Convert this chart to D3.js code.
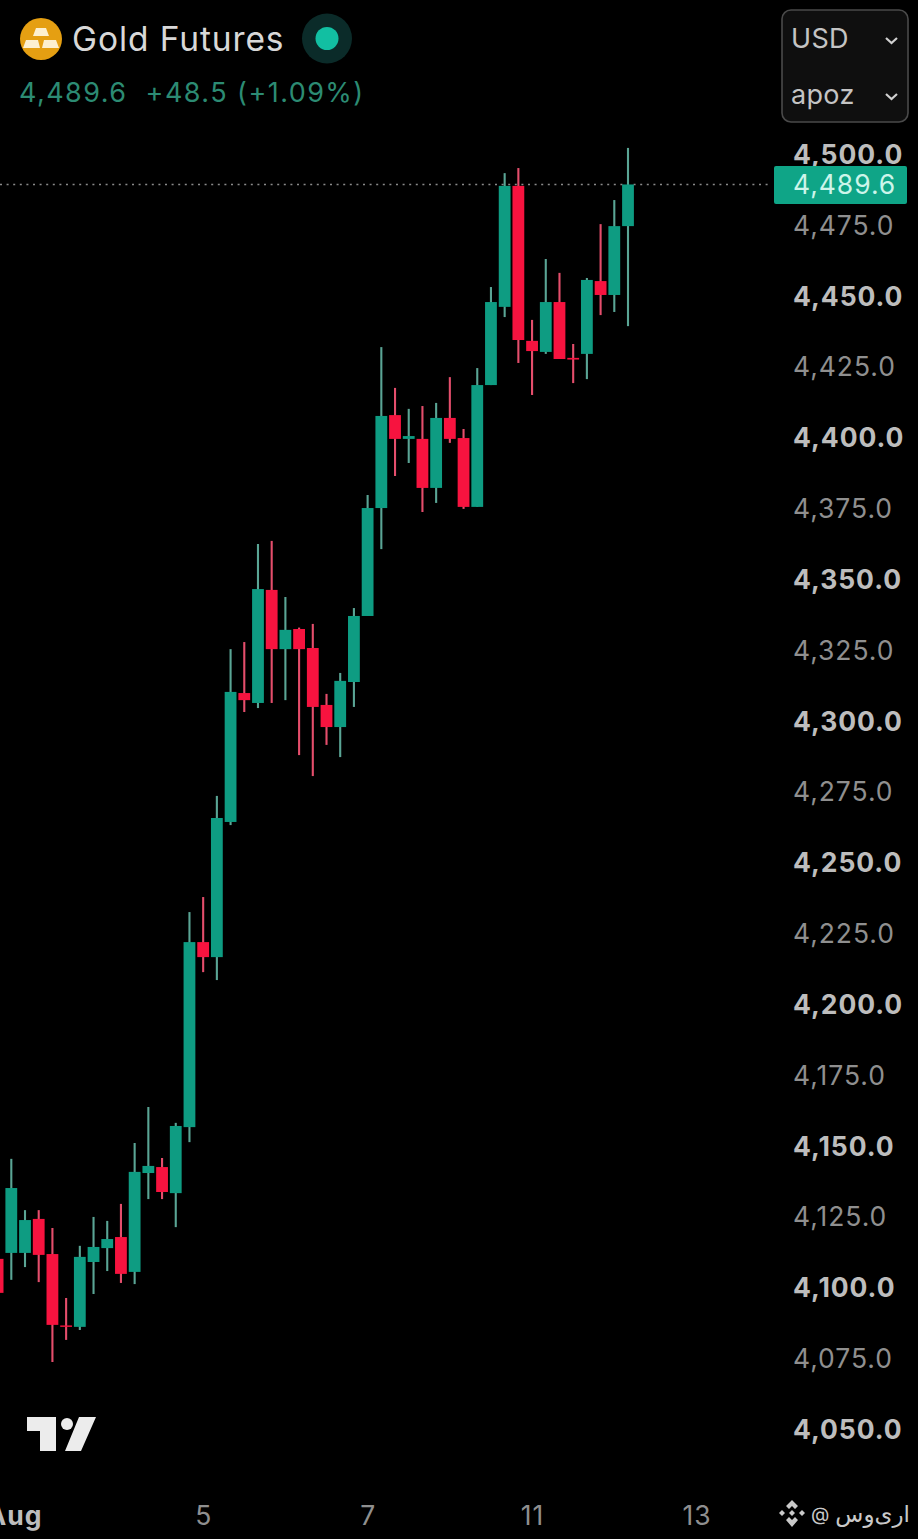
<!DOCTYPE html>
<html>
<head>
<meta charset="utf-8">
<script src="https://cdn.jsdelivr.net/npm/d3@7"></script>
<style>
    html, body { margin: 0; padding: 0; background: #000; }
    svg { display: block; }
    text { font-family: Inter, Roboto, sans-serif; }
</style>
</head>
<body>
<div id="chart"></div>
<script>
// candles, oldest first
const opens = [4110.4, 4112.5, 4112.5, 4124.5, 4112.1, 4086.9, 4086.4, 4109.3, 4114.2, 4118.1, 4105.8, 4140.7, 4142.8, 4133.6, 4156.9, 4222.2,
    4216.9, 4264.6, 4310.1, 4306.6, 4346.5, 4325.6, 4332.7, 4326.0, 4305.9, 4298.1, 4314.0, 4337.3, 4375.4, 4408.2, 4399.8, 4399.8,
    4382.5, 4407.2, 4400.1, 4375.8, 4418.8, 4446.4, 4489.1, 4434.4, 4430.5, 4448.1, 4428.4, 4429.8, 4455.5, 4450.6, 4474.9];
const highs = [4110.4, 4145.7, 4127.6, 4127.6, 4121.3, 4096.6, 4115.0, 4125.2, 4123.8, 4129.8, 4151.3, 4164.0, 4146.0, 4158.4, 4232.8, 4238.1,
    4273.8, 4325.6, 4328.1, 4362.7, 4363.8, 4344.0, 4333.2, 4334.5, 4309.8, 4317.2, 4340.1, 4380.0, 4432.2, 4417.8, 4410.4, 4411.4,
    4412.5, 4421.6, 4403.3, 4424.8, 4453.4, 4493.6, 4495.4, 4441.8, 4463.3, 4458.4, 4433.3, 4456.6, 4475.6, 4484.1, 4502.5];
const lows = [4098.4, 4103.0, 4107.5, 4102.2, 4074.0, 4081.8, 4085.3, 4098.0, 4106.1, 4101.9, 4101.5, 4131.5, 4131.5, 4121.6, 4151.6, 4211.6,
    4208.8, 4263.5, 4303.4, 4304.8, 4306.6, 4307.6, 4288.2, 4280.8, 4291.8, 4287.5, 4305.2, 4337.3, 4360.9, 4386.7, 4391.3, 4374.0,
    4377.2, 4398.4, 4375.1, 4375.8, 4418.8, 4442.8, 4426.6, 4415.3, 4429.8, 4428.0, 4419.5, 4420.9, 4443.5, 4444.6, 4439.6];
const closes = [4098.4, 4135.4, 4124.1, 4111.8, 4087.1, 4086.4, 4111.1, 4114.6, 4117.4, 4105.1, 4141.1, 4143.2, 4134.0, 4157.3, 4222.2, 4216.9,
    4266.0, 4310.5, 4307.6, 4346.8, 4325.6, 4332.4, 4325.6, 4305.2, 4298.1, 4314.4, 4337.3, 4375.4, 4407.9, 4399.8, 4400.8, 4382.5,
    4407.2, 4399.8, 4375.8, 4418.8, 4448.1, 4489.1, 4434.7, 4430.8, 4448.1, 4428.0, 4427.8, 4455.9, 4450.6, 4474.9, 4489.6];

const priceTicks = [4050, 4075, 4100, 4125, 4150, 4175, 4200, 4225, 4250, 4275, 4300, 4325, 4350, 4375, 4400, 4425, 4450, 4475, 4500];
const dateTickIndex = [1.2, 15, 27, 39, 51];
const dateTickLabels = ['Aug', '5', '7', '11', '13'];

const lastPrice = 4489.6;
const symbolName = 'Gold Futures';
const changeText = '4,489.6  +48.5 (+1.09%)';

const width = 918, height = 1539;
const green = '#0e9c82', red = '#f7133f';
const greenWick = '#5aa595', redWick = '#e54e6c';
const bodyWidth = 11.8;
const labelSpacing = '0.95px';

const svg = d3.select('#chart').append('svg')
    .attr('width', width)
    .attr('height', height)
    .style('background', '#000');

const x = d3.scaleLinear().domain([0, 46]).range([-2.4, 628]);
const y = d3.scaleLinear().domain([4050, 4500]).range([1430, 155]);

const candles = opens.map((o, i) => ({ i, o, h: highs[i], l: lows[i], c: closes[i], up: closes[i] >= o }));

// last price dotted line
svg.append('line')
    .attr('x1', 0).attr('x2', 772)
    .attr('y1', y(lastPrice)).attr('y2', y(lastPrice))
    .attr('stroke', '#8a8a8a')
    .attr('stroke-width', 1.4)
    .attr('stroke-dasharray', '2 4.6');

const candle = svg.append('g').selectAll('g').data(candles).enter().append('g');

candle.append('line')
    .attr('x1', d => x(d.i)).attr('x2', d => x(d.i))
    .attr('y1', d => y(d.h)).attr('y2', d => y(d.l))
    .attr('stroke', d => d.up ? greenWick : redWick)
    .attr('stroke-width', 2.1);

candle.append('rect')
    .attr('x', d => x(d.i) - bodyWidth / 2)
    .attr('width', bodyWidth)
    .attr('y', d => y(Math.max(d.o, d.c)))
    .attr('height', d => Math.max(1.4, Math.abs(y(d.o) - y(d.c))))
    .attr('fill', d => d.up ? green : red);

// price axis
const yAxis = svg.append('g')
    .attr('transform', 'translate(793, 0)')
    .call(d3.axisRight(y).tickValues(priceTicks).tickSize(0).tickPadding(0).tickFormat(d3.format(',.1f')));
yAxis.select('.domain').remove();
yAxis.selectAll('text')
    .style('font-family', 'Inter, Roboto, sans-serif')
    .style('font-size', '26.5px')
    .style('letter-spacing', labelSpacing)
    .style('font-weight', d => d % 50 === 0 ? 700 : 400)
    .attr('fill', d => d % 50 === 0 ? '#bdbdbd' : '#8f8f8f');

// date axis
const xAxis = svg.append('g')
    .attr('transform', 'translate(0, 1506.5)')
    .call(d3.axisBottom(x).tickValues(dateTickIndex).tickSize(0).tickPadding(0)
        .tickFormat((d, i) => dateTickLabels[i]));
xAxis.select('.domain').remove();
xAxis.selectAll('text')
    .style('font-family', 'Inter, Roboto, sans-serif')
    .style('font-size', '26.5px')
    .style('letter-spacing', labelSpacing)
    .style('font-weight', (d, i) => i === 0 ? 700 : 400)
    .attr('fill', (d, i) => i === 0 ? '#bdbdbd' : '#8f8f8f');

// last price tag
svg.append('rect')
    .attr('x', 774).attr('y', y(lastPrice) - 18.5)
    .attr('width', 133).attr('height', 38).attr('rx', 2)
    .attr('fill', '#0fa587');
svg.append('text')
    .attr('x', 793).attr('y', y(lastPrice))
    .attr('dy', '0.36em')
    .attr('font-size', 26.5)
    .attr('fill', '#cdf5ea')
    .style('letter-spacing', labelSpacing)
    .text(d3.format(',.1f')(lastPrice));

// header
const coin = svg.append('g').attr('transform', 'translate(41, 39)');
coin.append('circle').attr('r', 21).attr('fill', '#e59f12');
coin.append('path')
    .attr('d', 'M-5,-11 H5 L8,-3 H-8 Z M-15,1 H-3 L-1,9 H-18 Z M3,1 H15 L18,9 H1 Z')
    .attr('fill', '#fdf0d0');

svg.append('text')
    .attr('x', 72).attr('y', 51)
    .attr('font-size', 33.5)
    .attr('fill', '#d8d8d8')
    .style('letter-spacing', '0.9px')
    .text(symbolName);

svg.append('circle').attr('cx', 327).attr('cy', 38.5).attr('r', 25).attr('fill', '#0b2b29');
svg.append('circle').attr('cx', 327).attr('cy', 38.5).attr('r', 11.5).attr('fill', '#12bfa2');

svg.append('text')
    .attr('x', 19).attr('y', 102)
    .attr('font-size', 27)
    .attr('fill', '#2c8b73')
    .style('white-space', 'pre')
    .style('letter-spacing', '1.45px')
    .text(changeText);

// currency / unit box
svg.append('rect')
    .attr('x', 782).attr('y', 10)
    .attr('width', 126).attr('height', 112).attr('rx', 9)
    .attr('fill', '#0f0f0f')
    .attr('stroke', '#4a4a4a')
    .attr('stroke-width', 1.6);

const boxRows = svg.append('g').selectAll('g').data(['USD', 'apoz']).enter().append('g')
    .attr('transform', (d, i) => `translate(0, ${i * 56})`);
boxRows.append('text')
    .attr('x', 791).attr('y', 48)
    .attr('font-size', 27)
    .attr('fill', '#c4c4c4')
    .style('letter-spacing', '0.3px')
    .text(d => d);
boxRows.append('path')
    .attr('d', 'M886,38 L891.5,43 L897,38')
    .attr('fill', 'none')
    .attr('stroke', '#d0d0d0')
    .attr('stroke-width', 2.2);

// TradingView mark
svg.append('path')
    .attr('d', 'M27,1417 H56 V1451 H40 V1431 H27 Z M96,1417 L81,1451 H65 L79,1417 Z')
    .attr('fill', '#ececec');
svg.append('circle').attr('cx', 67).attr('cy', 1424).attr('r', 6).attr('fill', '#ececec');

// watermark
const wm = svg.append('g').attr('fill', '#c9c9c9');
wm.append('text')
    .attr('x', 910).attr('y', 1522)
    .attr('text-anchor', 'end')
    .attr('font-size', 23)
    .style('font-family', '"Noto Sans", "DejaVu Sans", sans-serif')
    .text('اری‌وس');
wm.append('text')
    .attr('x', 811).attr('y', 1521)
    .attr('font-size', 19)
    .text('@');
wm.selectAll('path').data([
    'M792,1500 L798,1506 L795,1509 L792,1506 L789,1509 L786,1506 Z',
    'M782,1510 L785,1513 L782,1516 L779,1513 Z',
    'M802,1510 L805,1513 L802,1516 L799,1513 Z',
    'M792,1510 L795,1513 L792,1516 L789,1513 Z',
    'M786,1520 L789,1517 L792,1520 L795,1517 L798,1520 L792,1527 Z'
]).enter().append('path').attr('d', d => d);
</script>
</body>
</html>
